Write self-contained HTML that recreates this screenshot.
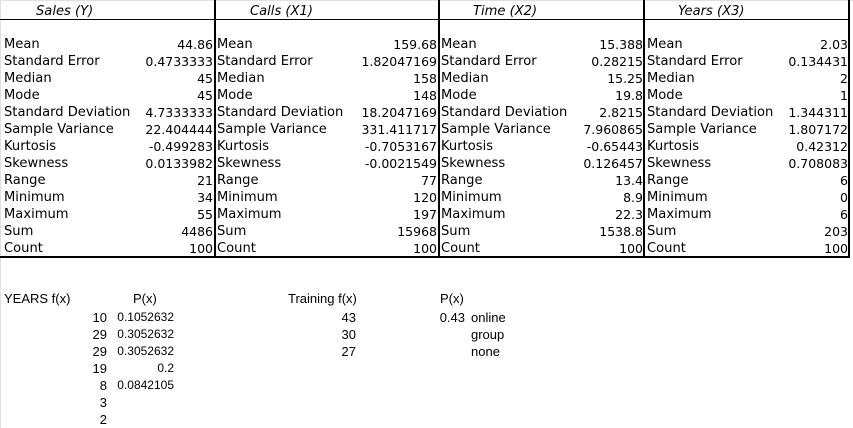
<!DOCTYPE html>
<html><head><meta charset="utf-8"><style>
body{margin:0;width:853px;height:428px;background:#fff;position:relative;overflow:hidden;font-family:"DejaVu Sans",Verdana,sans-serif;font-size:13.1px;color:#000}
.h{position:absolute;font-style:italic;line-height:17px;white-space:nowrap}
.ln{position:absolute;background:#000}
.g{position:absolute;background:#e0e0e0}
.b{font-family:"Liberation Sans",Arial,sans-serif;font-size:13px;position:absolute;line-height:17px;white-space:nowrap}
.col{position:absolute;top:36px}
.col div{height:17px;line-height:17px;white-space:nowrap}
.n{font-size:12.5px}
</style></head><body>
<div class="g" style="left:0;top:0;width:853px;height:1px"></div>
<div class="g" style="left:0;top:0;width:1px;height:428px"></div>
<div class="ln" style="left:0;top:19px;width:850px;height:1px"></div>
<div class="ln" style="left:0;top:256px;width:850px;height:2px"></div>
<div class="ln" style="left:214px;top:0;width:2px;height:257px"></div>
<div class="ln" style="left:438px;top:0;width:2px;height:257px"></div>
<div class="ln" style="left:643px;top:0;width:2px;height:257px"></div>
<div class="ln" style="left:848px;top:0;width:2px;height:257px"></div>

<div class="h" style="left:36px;top:3px">Sales (Y)</div>
<div class="h" style="left:250px;top:3px">Calls (X1)</div>
<div class="h" style="left:473px;top:3px">Time (X2)</div>
<div class="h" style="left:678px;top:3px">Years (X3)</div>

<div class="col" style="left:4px"><div>Mean</div><div>Standard Error</div><div>Median</div><div>Mode</div><div>Standard Deviation</div><div>Sample Variance</div><div>Kurtosis</div><div>Skewness</div><div>Range</div><div>Minimum</div><div>Maximum</div><div>Sum</div><div>Count</div></div>
<div class="col n" style="left:100px;width:113px;text-align:right"><div>44.86</div><div>0.4733333</div><div>45</div><div>45</div><div>4.7333333</div><div>22.404444</div><div>-0.499283</div><div>0.0133982</div><div>21</div><div>34</div><div>55</div><div>4486</div><div>100</div></div>

<div class="col" style="left:217px"><div>Mean</div><div>Standard Error</div><div>Median</div><div>Mode</div><div>Standard Deviation</div><div>Sample Variance</div><div>Kurtosis</div><div>Skewness</div><div>Range</div><div>Minimum</div><div>Maximum</div><div>Sum</div><div>Count</div></div>
<div class="col n" style="left:330px;width:107px;text-align:right"><div>159.68</div><div>1.82047169</div><div>158</div><div>148</div><div>18.2047169</div><div>331.411717</div><div>-0.7053167</div><div>-0.0021549</div><div>77</div><div>120</div><div>197</div><div>15968</div><div>100</div></div>

<div class="col" style="left:441px"><div>Mean</div><div>Standard Error</div><div>Median</div><div>Mode</div><div>Standard Deviation</div><div>Sample Variance</div><div>Kurtosis</div><div>Skewness</div><div>Range</div><div>Minimum</div><div>Maximum</div><div>Sum</div><div>Count</div></div>
<div class="col n" style="left:543px;width:100px;text-align:right"><div>15.388</div><div>0.28215</div><div>15.25</div><div>19.8</div><div>2.8215</div><div>7.960865</div><div>-0.65443</div><div>0.126457</div><div>13.4</div><div>8.9</div><div>22.3</div><div>1538.8</div><div>100</div></div>

<div class="col" style="left:647px"><div>Mean</div><div>Standard Error</div><div>Median</div><div>Mode</div><div>Standard Deviation</div><div>Sample Variance</div><div>Kurtosis</div><div>Skewness</div><div>Range</div><div>Minimum</div><div>Maximum</div><div>Sum</div><div>Count</div></div>
<div class="col n" style="left:760px;width:88px;text-align:right"><div>2.03</div><div>0.134431</div><div>2</div><div>1</div><div>1.344311</div><div>1.807172</div><div>0.42312</div><div>0.708083</div><div>6</div><div>0</div><div>6</div><div>203</div><div>100</div></div>

<div class="b" style="left:4px;top:290px">YEARS f(x)</div>
<div class="b" style="left:133px;top:290px">P(x)</div>
<div class="b" style="left:60px;top:309px;width:47px;text-align:right">10<br>29<br>29<br>19<br>8<br>3<br>2</div>
<div class="b" style="left:100px;top:309px;width:74px;text-align:right;font-size:12px">0.1052632<br>0.3052632<br>0.3052632<br>0.2<br>0.0842105</div>
<div class="b" style="left:288px;top:290px">Training f(x)</div>
<div class="b" style="left:300px;top:309px;width:56px;text-align:right">43<br>30<br>27</div>
<div class="b" style="left:440px;top:290px">P(x)</div>
<div class="b" style="left:420px;top:309px;width:45px;text-align:right">0.43</div>
<div class="b" style="left:471px;top:309px">online<br>group<br>none</div>
</body></html>
